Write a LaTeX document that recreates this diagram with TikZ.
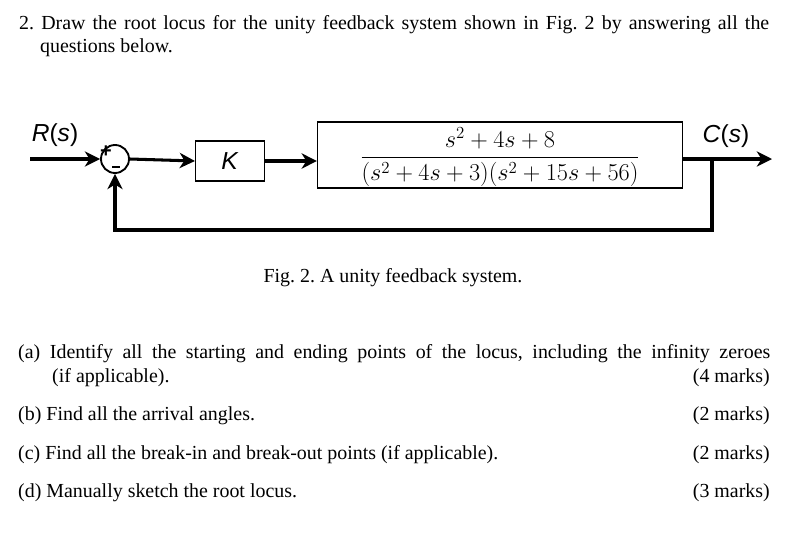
\documentclass[tikz,border=0pt]{standalone}
\usepackage{fontspec}
\setmainfont{Liberation Serif}
\newfontfamily\arialf{Liberation Sans}
\usetikzlibrary{arrows.meta}
\begin{document}
\frenchspacing
\begin{tikzpicture}[x=0.03cm,y=-0.03cm,
  txt/.style={inner sep=0pt,font=\fontsize{17}{20}\selectfont},
  lbl/.style={inner sep=0pt,font=\arialf\fontsize{21}{24}\selectfont},
  sgn/.style={inner sep=0pt,font=\arialf\bfseries\fontsize{17}{17}\selectfont},
  sig/.style={line width=2.6pt,-{Stealth[length=13pt,width=13pt,inset=4pt]}},
  blk/.style={draw,line width=1pt,inner sep=0pt}]
\useasboundingbox (0,0) rectangle (797,551);
\node[txt,anchor=west] (l1) at (19,25) {\makebox[22.5cm][s]{2. Draw the root locus for the unity feedback system shown in Fig. 2 by answering all the}};
\node[txt,anchor=west] (l2) at (40,48) {questions below.};
% block diagram
\node[lbl] (R) at (55,135) {\textit{R}(\textit{s})};
\coordinate (in) at (30,159);
\node[draw,circle,line width=1.6pt,minimum size=0.84cm,inner sep=0pt] (sum) at (115,159) {};
\node[sgn] (plus) at (106,152) {+};
\node[sgn] (minus) at (116,167) {\rule{0.22cm}{1.6pt}};
\node[blk,minimum width=2.07cm,minimum height=1.2cm] (K) at (230,161) {};
\node[lbl] (Kt) at (230,161) {\textit{K}};
\node[blk,minimum width=10.95cm,minimum height=1.98cm] (G) at (500,155) {};
\node[inner sep=0pt,font=\fontsize{19.5}{22}\selectfont] (Gt) at (500,157) {$\displaystyle\frac{s^2+4s+8}{(s^2+4s+3)(s^2+15s+56)}$};
\node[lbl] (C) at (726,136) {\textit{C}(\textit{s})};
\coordinate (out) at (772,159);
\coordinate (tap) at (712,159);
\coordinate (b1) at (712,230);
\coordinate (b2) at (115,230);
\draw[sig] (in) -- (sum.west);
\draw[sig] (sum.east) -- (K.west);
\draw[sig] (K.east) -- (G.west |- K.east);
\draw[sig] (G.east |- out) -- (out);
\draw[sig,line join=miter] (tap) -- (b1) -- (b2) -- (sum.south);
\node[txt] (fig) at (393,278) {Fig. 2. A unity feedback system.};
\node[txt,anchor=west] (a1) at (18,354) {\makebox[22.56cm][s]{(a) Identify all the starting and ending points of the locus, including the infinity zeroes}};
\node[txt,anchor=west] (a2) at (52,378) {(if applicable).};
\node[txt,anchor=east] (a3) at (770,378) {(4 marks)};
\node[txt,anchor=west] (b) at (18,416) {(b) Find all the arrival angles.};
\node[txt,anchor=east] (bm) at (770,416) {(2 marks)};
\node[txt,anchor=west] (c) at (18,455) {(c) Find all the break-in and break-out points (if applicable).};
\node[txt,anchor=east] (cm) at (770,455) {(2 marks)};
\node[txt,anchor=west] (d) at (18,493) {(d) Manually sketch the root locus.};
\node[txt,anchor=east] (dm) at (770,493) {(3 marks)};
\end{tikzpicture}
\end{document}
